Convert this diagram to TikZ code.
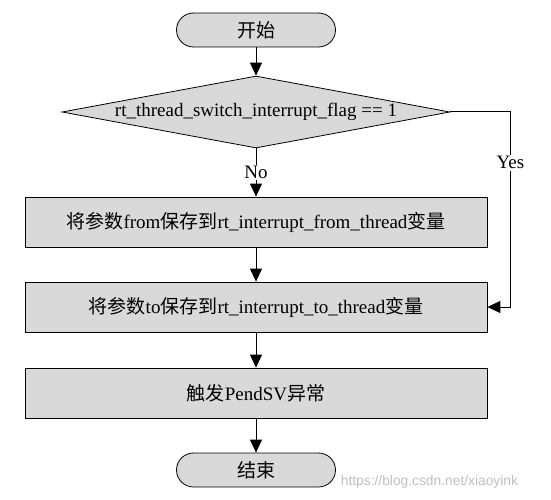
\documentclass[tikz,border=0pt]{standalone}
\usepackage{fontspec}
\setmainfont{Liberation Serif}
\newfontfamily\cjk{Noto Sans CJK SC}
\newfontfamily\marksans{Liberation Sans}
\usetikzlibrary{shapes.geometric,arrows.meta}
\definecolor{boxgray}{RGB}{217,217,217}

\begin{document}
\begin{tikzpicture}
[x=1pt,y=-1pt,line width=1pt,
 every node/.style={font=\fontsize{19}{22}\selectfont},
 term/.style={draw,line width=.8pt,fill=boxgray,rounded corners=17pt,minimum width=159pt,minimum height=34pt,inner sep=0pt},
 proc/.style={draw,line width=.8pt,fill=boxgray,minimum width=462pt,minimum height=50pt,inner sep=0pt},
 test/.style={draw,line width=.8pt,fill=boxgray,diamond,aspect=5.4,minimum width=388pt,minimum height=72pt,inner sep=0pt},
 lab/.style={fill=white,inner sep=1.5pt},
 >={Triangle[length=13pt,width=12pt]}]
\useasboundingbox (0,0) rectangle (551,500);

\node[term] (start) at (256,30) {\cjk 开始};
\node[test] (cond) at (256,112) {rt\_thread\_switch\_interrupt\_flag == 1};
\node[proc] (save1) at (256,222) {{\cjk 将参数}from{\cjk 保存到}rt\_interrupt\_from\_thread{\cjk 变量}};
\node[proc] (save2) at (256,307) {{\cjk 将参数}to{\cjk 保存到}rt\_interrupt\_to\_thread{\cjk 变量}};
\node[proc] (pend) at (256,393) {{\cjk 触发}PendSV{\cjk 异常}};
\node[term] (stop) at (256,470) {\cjk 结束};

\node[anchor=west,text=black!25,font=\marksans\fontsize{13.8}{16}\selectfont] (mark) at (337,482) {https://blog.csdn.net/xiaoyink};

\foreach \from/\to in {start/cond,save1/save2,save2/pend,pend/stop}
\draw[->] (\from) -- (\to);
\draw[->] (cond) -- node[lab] {No} (save1);
\draw[->] (cond.east) -- ++(60,0) |- node[lab,pos=.13] {Yes} (save2.east);
\end{tikzpicture}
\end{document}
